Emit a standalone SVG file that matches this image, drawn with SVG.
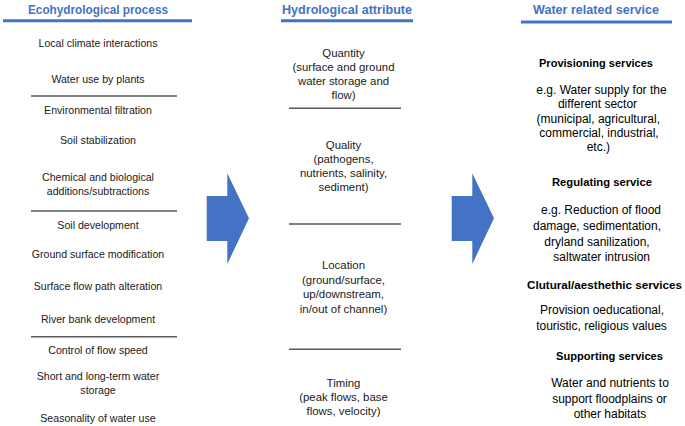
<svg xmlns="http://www.w3.org/2000/svg" width="685" height="426" viewBox="0 0 685 426">
<style>
.title{font-family:"Liberation Sans",Arial,sans-serif;font-weight:bold;font-size:12.8px;fill:#4472C4;text-anchor:middle}
.uline{stroke:#4472C4;stroke-width:3}
.sep{stroke:#595959;stroke-width:1.5}
.lt{font-family:"Liberation Sans",Arial,sans-serif;font-size:10.6px;fill:#1a1a1a;text-anchor:middle}
.mt{font-family:"Liberation Sans",Arial,sans-serif;font-size:11.4px;fill:#1a1a1a;text-anchor:middle}
.rh{font-family:"Liberation Sans",Arial,sans-serif;font-weight:bold;font-size:11.8px;fill:#000;text-anchor:middle}
.rt{font-family:"Liberation Sans",Arial,sans-serif;font-size:12px;fill:#000;text-anchor:middle}
.arrow{fill:#4472C4}
</style>
<rect width="685" height="426" fill="#fff"/>

<g id="col-ecohydrological">
<text class="title" x="98" y="13.5" textLength="140" lengthAdjust="spacingAndGlyphs">Ecohydrological process</text>
<line class="uline" x1="3" y1="20.7" x2="192" y2="20.7"/>
<text class="lt" x="98" y="47">Local climate interactions</text>
<text class="lt" x="98" y="83">Water use by plants</text>
<line class="sep" x1="31" y1="96" x2="177" y2="96"/>
<text class="lt" x="98" y="114">Environmental filtration</text>
<text class="lt" x="98" y="144">Soil stabilization</text>
<text class="lt" x="98" y="181">Chemical and biological</text>
<text class="lt" x="98" y="195">additions/subtractions</text>
<line class="sep" x1="31" y1="211" x2="177" y2="211"/>
<text class="lt" x="98" y="229">Soil development</text>
<text class="lt" x="98" y="258">Ground surface modification</text>
<text class="lt" x="98" y="290">Surface flow path alteration</text>
<text class="lt" x="98" y="323">River bank development</text>
<line class="sep" x1="31" y1="336.7" x2="177" y2="336.7"/>
<text class="lt" x="98" y="354">Control of flow speed</text>
<text class="lt" x="98" y="380">Short and long-term water</text>
<text class="lt" x="98" y="394">storage</text>
<text class="lt" x="98" y="422">Seasonality of water use</text>
</g>

<g id="col-hydrological">
<text class="title" x="347" y="13.5" textLength="130" lengthAdjust="spacingAndGlyphs">Hydrological attribute</text>
<line class="uline" x1="281" y1="20.7" x2="413" y2="20.7"/>
<text class="mt" x="343.5" y="56.5">Quantity</text>
<text class="mt" x="343.5" y="70.5">(surface and ground</text>
<text class="mt" x="343.5" y="84.5">water storage and</text>
<text class="mt" x="343.5" y="98.5">flow)</text>
<line class="sep" x1="289" y1="108.3" x2="401" y2="108.3"/>
<text class="mt" x="343.5" y="149">Quality</text>
<text class="mt" x="343.5" y="163">(pathogens,</text>
<text class="mt" x="343.5" y="176.8">nutrients, salinity,</text>
<text class="mt" x="343.5" y="190.6">sediment)</text>
<line class="sep" x1="289" y1="224" x2="401" y2="224"/>
<text class="mt" x="343.5" y="269">Location</text>
<text class="mt" x="343.5" y="284">(ground/surface,</text>
<text class="mt" x="343.5" y="298.3">up/downstream,</text>
<text class="mt" x="343.5" y="312.6">in/out of channel)</text>
<line class="sep" x1="289" y1="349.3" x2="401" y2="349.3"/>
<text class="mt" x="343.5" y="386.7">Timing</text>
<text class="mt" x="343.5" y="401">(peak flows, base</text>
<text class="mt" x="343.5" y="415.3">flows, velocity)</text>
</g>

<g id="col-service">
<text class="title" x="596" y="13.5" textLength="126" lengthAdjust="spacingAndGlyphs">Water related service</text>
<line class="uline" x1="521" y1="22" x2="672" y2="22"/>
<text class="rh" x="596" y="67" textLength="114" lengthAdjust="spacingAndGlyphs">Provisioning services</text>
<text class="rt" x="601.5" y="93.5">e.g. Water supply for the</text>
<text class="rt" x="597.5" y="108">different sector</text>
<text class="rt" x="598.3" y="122.5">(municipal, agricultural,</text>
<text class="rt" x="599" y="136.8">commercial, industrial,</text>
<text class="rt" x="598.3" y="151">etc.)</text>
<text class="rh" x="602" y="186" textLength="100" lengthAdjust="spacingAndGlyphs">Regulating service</text>
<text class="rt" x="601" y="213.5">e.g. Reduction of flood</text>
<text class="rt" x="597" y="229.5">damage, sedimentation,</text>
<text class="rt" x="597" y="246">dryland sanilization,</text>
<text class="rt" x="601.7" y="260.5">saltwater intrusion</text>
<text class="rh" x="604.5" y="288.5" textLength="155" lengthAdjust="spacingAndGlyphs">Clutural/aesthethic services</text>
<text class="rt" x="602" y="313.5">Provision oeducational,</text>
<text class="rt" x="601.5" y="329.5">touristic, religious values</text>
<text class="rh" x="609.5" y="359.5" textLength="107" lengthAdjust="spacingAndGlyphs">Supporting services</text>
<text class="rt" x="610" y="386.5">Water and nutrients to</text>
<text class="rt" x="609.5" y="402.5">support floodplains or</text>
<text class="rt" x="610" y="417.5">other habitats</text>
</g>

<g id="connectors">
<polygon id="arrow1" class="arrow" points="206.7,196 227.3,196 227.3,173.3 249,218.3 227.3,264 227.3,241 206.7,241"/>
<polygon id="arrow2" class="arrow" points="451.7,196 472.3,196 472.3,173.3 494,218.3 472.3,264 472.3,241 451.7,241"/>
</g>
</svg>
